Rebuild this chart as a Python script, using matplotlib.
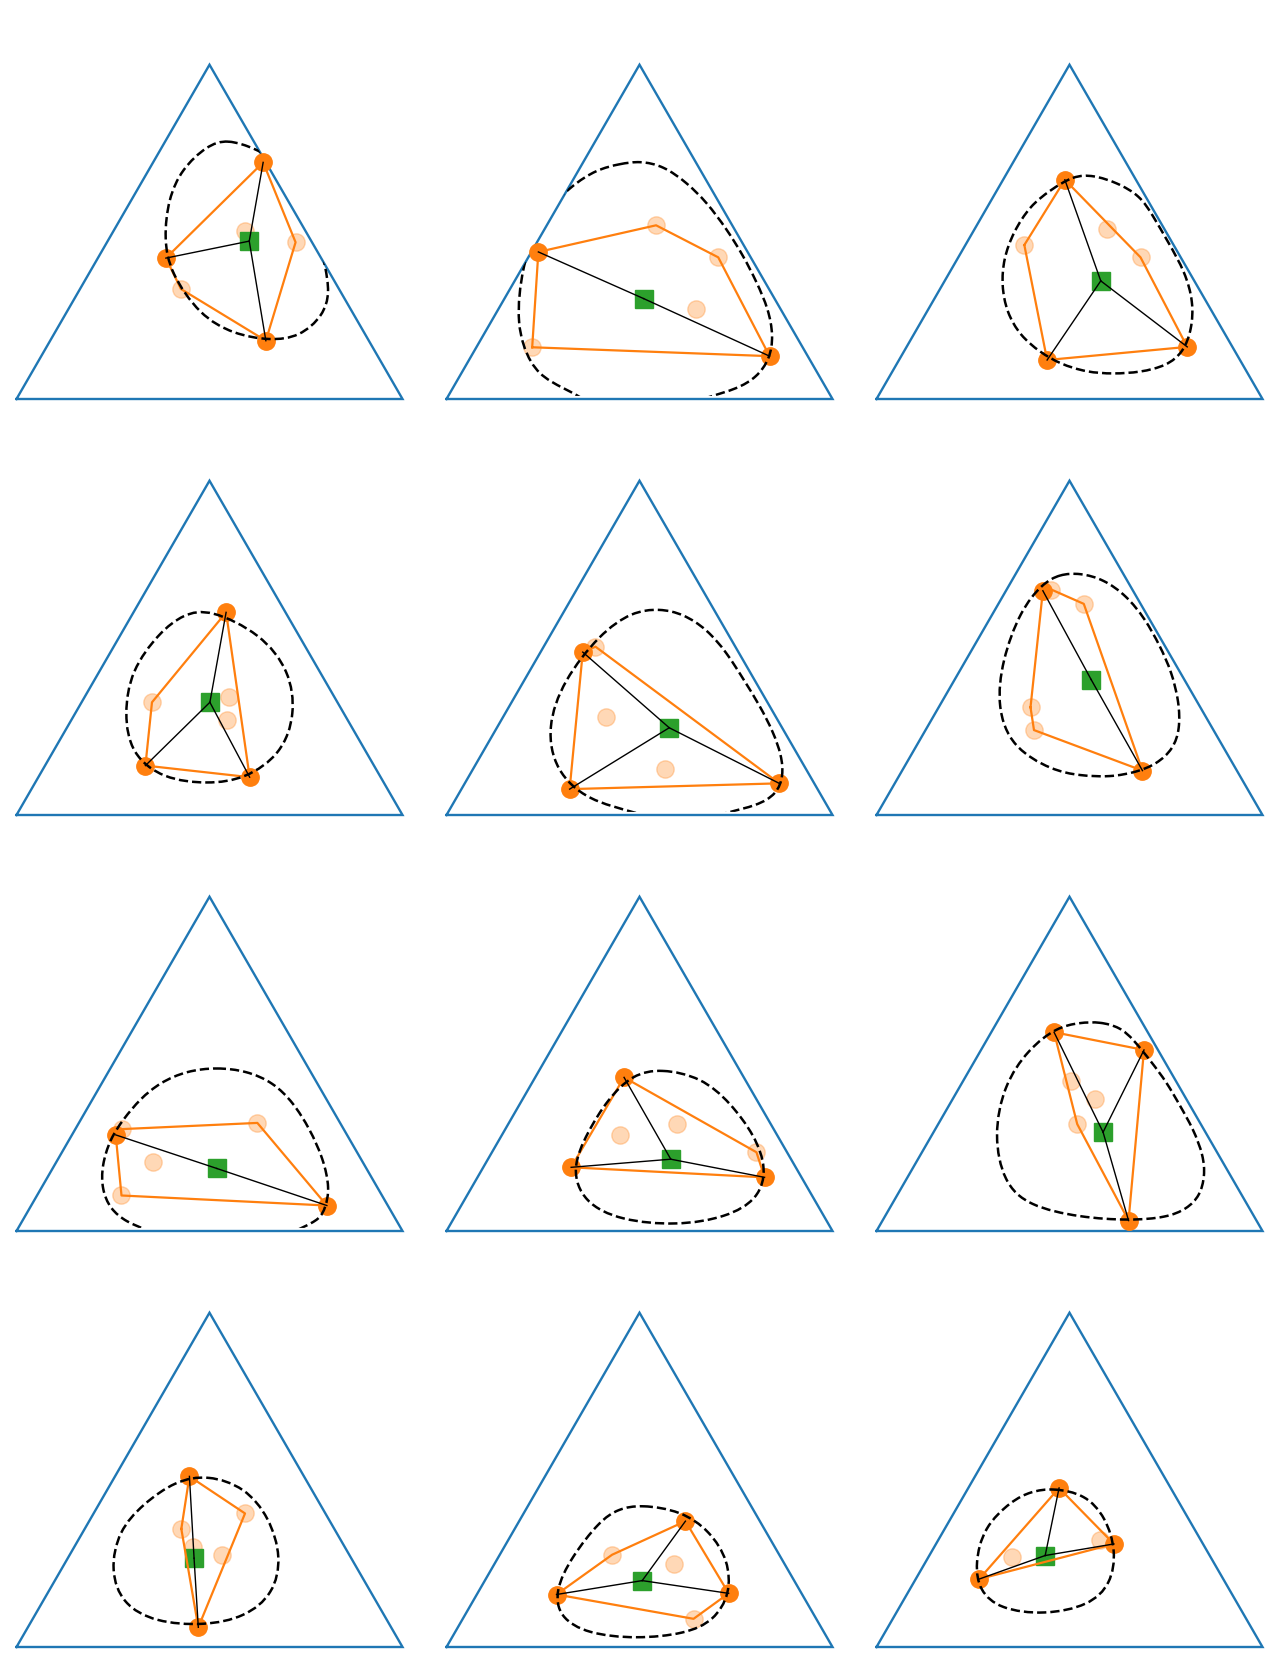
import numpy as np
import matplotlib
matplotlib.use("Agg")
import matplotlib.pyplot as plt
from matplotlib.path import Path
from matplotlib.patches import PathPatch, Polygon

# ---------------- data (simplex-plane coordinates; triangle (0,0),(1,0),(0.5,sqrt(3)/2)) ----------------
solid_01 = [(0.639, 0.613), (0.387, 0.365), (0.646, 0.151)]
faded_01 = [(0.592, 0.434), (0.723, 0.406), (0.426, 0.285)]
center_01 = (0.603, 0.409)
region_01 = [(0.545, 0.674), (0.622, 0.648), (0.677, 0.614), (0.734, 0.544), (0.773, 0.461),
             (0.791, 0.389), (0.799, 0.345), (0.812, 0.276), (0.795, 0.216), (0.734, 0.161),
             (0.657, 0.151), (0.562, 0.168), (0.475, 0.216), (0.398, 0.328), (0.382, 0.415),
             (0.393, 0.518), (0.428, 0.596), (0.493, 0.656)]

solid_02 = [(0.238, 0.381), (0.837, 0.111)]
faded_02 = [(0.543, 0.450), (0.704, 0.367), (0.646, 0.234), (0.222, 0.134)]
center_02 = (0.511, 0.260)
region_02 = [(0.449, 0.609), (0.501, 0.617), (0.562, 0.604), (0.622, 0.561), (0.674, 0.510),
             (0.726, 0.440), (0.769, 0.371), (0.804, 0.302), (0.834, 0.233), (0.847, 0.164),
             (0.838, 0.104), (0.804, 0.056), (0.752, 0.026), (0.683, 0.007), (0.603, -0.022),
             (0.493, -0.036), (0.383, -0.022), (0.344, 0.009), (0.265, 0.045), (0.217, 0.087),
             (0.179, 0.191), (0.196, 0.346), (0.238, 0.467), (0.323, 0.553), (0.390, 0.595)]

solid_03 = [(0.488, 0.568), (0.805, 0.135), (0.442, 0.101)]
faded_03 = [(0.383, 0.399), (0.596, 0.440), (0.684, 0.367)]
center_03 = (0.581, 0.306)
region_03 = [(0.510, 0.579), (0.562, 0.580), (0.622, 0.561), (0.683, 0.527), (0.716, 0.475),
             (0.756, 0.406), (0.800, 0.328), (0.821, 0.251), (0.817, 0.181), (0.795, 0.121),
             (0.752, 0.086), (0.683, 0.069), (0.613, 0.065), (0.545, 0.069), (0.475, 0.091),
             (0.424, 0.121), (0.372, 0.164), (0.337, 0.225), (0.324, 0.294), (0.329, 0.363),
             (0.354, 0.432), (0.398, 0.501), (0.449, 0.540)]

solid_04 = [(0.543, 0.525), (0.334, 0.128), (0.604, 0.098)]
faded_04 = [(0.351, 0.292), (0.551, 0.305), (0.545, 0.245)]
center_04 = (0.501, 0.292)
region_04 = [(0.501, 0.534), (0.634, 0.469), (0.708, 0.374), (0.723, 0.262), (0.687, 0.158),
             (0.592, 0.093), (0.496, 0.080), (0.380, 0.093), (0.296, 0.158), (0.279, 0.262),
             (0.296, 0.374), (0.370, 0.473), (0.433, 0.521)]

solid_05 = [(0.353, 0.422), (0.319, 0.067), (0.862, 0.082)]
faded_05 = [(0.386, 0.436), (0.414, 0.253), (0.566, 0.119)]
center_05 = (0.577, 0.226)
region_05 = [(0.553, 0.535), (0.613, 0.521), (0.674, 0.482), (0.726, 0.421), (0.769, 0.352),
             (0.812, 0.283), (0.847, 0.214), (0.868, 0.154), (0.873, 0.102), (0.856, 0.054),
             (0.804, 0.024), (0.726, 0.007), (0.603, -0.031), (0.492, 0.007), (0.365, 0.037),
             (0.281, 0.115), (0.260, 0.227), (0.302, 0.348), (0.397, 0.469), (0.480, 0.527)]

solid_06 = [(0.431, 0.581), (0.689, 0.115)]
faded_06 = [(0.453, 0.584), (0.537, 0.547), (0.399, 0.279), (0.408, 0.220)]
center_06 = (0.556, 0.351)
region_06 = [(0.475, 0.624), (0.527, 0.627), (0.588, 0.611), (0.648, 0.568), (0.696, 0.508),
             (0.734, 0.439), (0.765, 0.370), (0.784, 0.292), (0.786, 0.223), (0.769, 0.171),
             (0.726, 0.132), (0.674, 0.111), (0.605, 0.098), (0.527, 0.102), (0.456, 0.115),
             (0.350, 0.175), (0.312, 0.279), (0.325, 0.400), (0.372, 0.529), (0.430, 0.600)]

solid_07 = [(0.257, 0.249), (0.804, 0.066)]
faded_07 = [(0.274, 0.264), (0.624, 0.280), (0.354, 0.178), (0.272, 0.092)]
center_07 = (0.519, 0.162)
region_07 = [(0.519, 0.424), (0.596, 0.415), (0.665, 0.385), (0.717, 0.333), (0.760, 0.264),
             (0.795, 0.187), (0.812, 0.109), (0.800, 0.060), (0.786, 0.031), (0.743, 0.010),
             (0.690, -0.015), (0.617, -0.032), (0.521, -0.040), (0.411, -0.030), (0.333, 0.005),
             (0.285, 0.023), (0.242, 0.057), (0.221, 0.109), (0.221, 0.169), (0.242, 0.238),
             (0.277, 0.290), (0.320, 0.342), (0.372, 0.385), (0.441, 0.415)]

solid_08 = [(0.460, 0.398), (0.323, 0.165), (0.824, 0.139)]
faded_08 = [(0.450, 0.249), (0.598, 0.277), (0.803, 0.204)]
center_08 = (0.581, 0.186)
region_08 = [(0.556, 0.421), (0.661, 0.398), (0.735, 0.333), (0.799, 0.247), (0.830, 0.161),
             (0.809, 0.083), (0.725, 0.035), (0.598, 0.014), (0.450, 0.027), (0.355, 0.074),
             (0.323, 0.161), (0.365, 0.256), (0.418, 0.342), (0.482, 0.406)]

solid_09 = [(0.460, 0.515), (0.693, 0.469), (0.653, 0.027)]
faded_09 = [(0.505, 0.389), (0.566, 0.342), (0.520, 0.277)]
center_09 = (0.587, 0.256)
region_09 = [(0.579, 0.542), (0.631, 0.528), (0.665, 0.497), (0.713, 0.437), (0.752, 0.385),
             (0.786, 0.325), (0.821, 0.264), (0.847, 0.195), (0.851, 0.143), (0.838, 0.091),
             (0.804, 0.057), (0.752, 0.035), (0.657, 0.027), (0.527, 0.035), (0.393, 0.065),
             (0.329, 0.126), (0.304, 0.247), (0.329, 0.377), (0.393, 0.471), (0.467, 0.528),
             (0.527, 0.540)]

solid_10 = [(0.448, 0.442), (0.471, 0.051)]
faded_10 = [(0.592, 0.346), (0.427, 0.306), (0.458, 0.258), (0.532, 0.239)]
center_10 = (0.460, 0.230)
region_10 = [(0.496, 0.446), (0.592, 0.414), (0.655, 0.336), (0.687, 0.232), (0.666, 0.137),
             (0.592, 0.077), (0.486, 0.055), (0.359, 0.064), (0.274, 0.111), (0.243, 0.198),
             (0.264, 0.301), (0.327, 0.370), (0.412, 0.431)]

solid_11 = [(0.619, 0.326), (0.285, 0.136), (0.731, 0.139)]
faded_11 = [(0.429, 0.239), (0.589, 0.215), (0.640, 0.073)]
center_11 = (0.507, 0.172)
region_11 = [(0.503, 0.369), (0.608, 0.353), (0.682, 0.301), (0.731, 0.224), (0.735, 0.137),
             (0.693, 0.068), (0.619, 0.034), (0.492, 0.021), (0.365, 0.034), (0.292, 0.077),
             (0.281, 0.146), (0.323, 0.232), (0.397, 0.327), (0.445, 0.358)]

solid_12 = [(0.473, 0.412), (0.266, 0.176), (0.615, 0.267)]
faded_12 = [(0.350, 0.232), (0.579, 0.277)]
center_12 = (0.437, 0.237)
region_12 = [(0.456, 0.412), (0.541, 0.396), (0.594, 0.336), (0.621, 0.249), (0.608, 0.163),
             (0.551, 0.107), (0.435, 0.083), (0.319, 0.098), (0.266, 0.146), (0.255, 0.215),
             (0.277, 0.310), (0.350, 0.379), (0.400, 0.403)]

panels = [
    (solid_01, faded_01, center_01, region_01),
    (solid_02, faded_02, center_02, region_02),
    (solid_03, faded_03, center_03, region_03),
    (solid_04, faded_04, center_04, region_04),
    (solid_05, faded_05, center_05, region_05),
    (solid_06, faded_06, center_06, region_06),
    (solid_07, faded_07, center_07, region_07),
    (solid_08, faded_08, center_08, region_08),
    (solid_09, faded_09, center_09, region_09),
    (solid_10, faded_10, center_10, region_10),
    (solid_11, faded_11, center_11, region_11),
    (solid_12, faded_12, center_12, region_12),
]

BLUE, ORANGE, GREEN = "#1f77b4", "#ff7f0e", "#2ca02c"
H = np.sqrt(3) / 2
TRI = np.array([(0.0, 0.0), (1.0, 0.0), (0.5, H)])
CLIP_B = 0.008  # region outline stops just above the base
CLIP = np.array([(CLIP_B / np.sqrt(3), CLIP_B), (1 - CLIP_B / np.sqrt(3), CLIP_B), (0.5, H)])


def convex_hull(points):
    pts = sorted(set(points))

    def cross(o, a, b):
        return (a[0] - o[0]) * (b[1] - o[1]) - (a[1] - o[1]) * (b[0] - o[0])

    lower, upper = [], []
    for p in pts:
        while len(lower) >= 2 and cross(lower[-2], lower[-1], p) <= 0:
            lower.pop()
        lower.append(p)
    for p in reversed(pts):
        while len(upper) >= 2 and cross(upper[-2], upper[-1], p) <= 0:
            upper.pop()
        upper.append(p)
    return lower[:-1] + upper[:-1]


def smooth_closed_path(points):
    """Closed uniform cubic B-spline on the control points, as Bezier segments."""
    P = np.asarray(points, dtype=float)
    n = len(P)
    verts, codes = [], []
    for i in range(n):
        pm, p0, p1, p2 = P[i - 1], P[i], P[(i + 1) % n], P[(i + 2) % n]
        b0 = (pm + 4 * p0 + p1) / 6.0
        b1 = (2 * p0 + p1) / 3.0
        b2 = (p0 + 2 * p1) / 3.0
        b3 = (p0 + 4 * p1 + p2) / 6.0
        if i == 0:
            verts.append(b0)
            codes.append(Path.MOVETO)
        verts += [b1, b2, b3]
        codes += [Path.CURVE4] * 3
    return Path(verts, codes)


FW, FH = 1280, 1665
fig = plt.figure(figsize=(FW / 100, FH / 100), dpi=100)
fig.patch.set_facecolor("white")

W = 386.0   # triangle width in pixels
m = 0.05
for k, (solid, faded, center, region) in enumerate(panels):
    r, c = divmod(k, 3)
    x0 = 16.5 + 430 * c
    ybot = FH - (400 + 416 * r)
    ax = fig.add_axes([(x0 - m * W) / FW, (ybot - m * W) / FH,
                       (1 + 2 * m) * W / FW, (H + 2 * m) * W / FH])
    ax.set_xlim(-m, 1 + m)
    ax.set_ylim(-m, H + m)
    ax.set_aspect("equal")
    ax.axis("off")

    # simplex
    tri_closed = np.vstack([TRI, TRI[:1]])
    ax.plot(tri_closed[:, 0], tri_closed[:, 1], color=BLUE, lw=1.7, zorder=1,
            solid_joinstyle="miter")

    # points
    fx, fy = zip(*faded)
    ax.plot(fx, fy, "o", color=ORANGE, ms=12.5, alpha=0.3, zorder=2)
    sx, sy = zip(*solid)
    ax.plot(sx, sy, "o", color=ORANGE, ms=12.5, zorder=3)
    ax.plot([center[0]], [center[1]], "s", color=GREEN, ms=13, zorder=3)

    # convex hull
    hull = convex_hull(list(solid) + list(faded))
    hx, hy = zip(*(hull + hull[:1]))
    ax.plot(hx, hy, color=ORANGE, lw=1.6, zorder=4)

    # spokes from center
    for (px, py) in solid:
        ax.plot([center[0], px], [center[1], py], color="black", lw=1.0, zorder=5)

    # dashed region clipped to simplex
    clip = Polygon(CLIP, closed=True, transform=ax.transData)
    patch = PathPatch(smooth_closed_path(region), fill=False, edgecolor="black",
                      lw=1.8, ls="--", zorder=6)
    ax.add_patch(patch)
    patch.set_clip_path(clip)

fig.savefig("out.png", dpi=100, facecolor="white")
